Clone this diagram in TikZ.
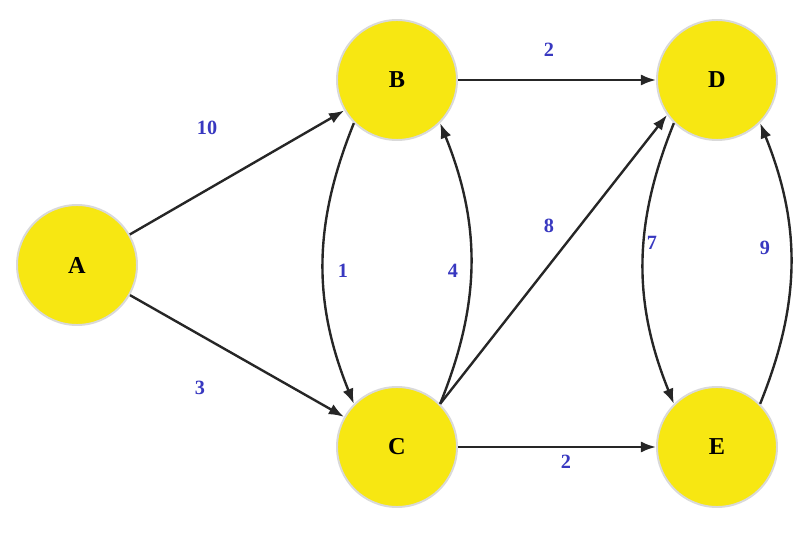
\documentclass[tikz,border=0pt]{standalone}
\usepackage{fontspec}
\setmainfont{Liberation Serif}
\usetikzlibrary{arrows.meta}
\definecolor{nodeyellow}{HTML}{F7E712}
\definecolor{wblue}{HTML}{3838C0}
\begin{document}
\begin{tikzpicture}[
    vertex/.style={circle, minimum size=3cm, fill=nodeyellow, draw=black!15, line width=1.4pt, font=\bfseries\LARGE},
    edge/.style={-{Latex[length=3.8mm,width=2.8mm]}, line width=1.7pt, black!85},
    weight/.style={text=wblue, font=\bfseries\Large}]
    \useasboundingbox (0,0) rectangle (20.05,13.675);
    \node[vertex] (A) at (1.925,7.05)  {A};
    \node[vertex] (B) at (9.925,11.675) {B};
    \node[vertex] (C) at (9.925,2.5)   {C};
    \node[vertex] (D) at (17.925,11.675) {D};
    \node[vertex] (E) at (17.925,2.5)  {E};
    % straight edges
    \draw[edge] (A) -- (B);
    \draw[edge] (A) -- (C);
    \draw[edge] (B) -- (D);
    \draw[edge] (C) -- (E);
    \draw[edge] (C.45) -- (D.215);
    % curved pairs
    \draw[edge] (B.225) to[bend right=22] (C.135);
    \draw[edge] (C.45) to[bend right=22] (B.315);
    \draw[edge] (D.225) to[bend right=22] (E.135);
    \draw[edge] (E.45) to[bend right=22] (D.315);
    % weights
    \node[weight] (wab) at (5.175,10.475) {10};
    \node[weight] (wac) at (5.0,3.975) {3};
    \node[weight] (wbd) at (13.725,12.425) {2};
    \node[weight] (wce) at (14.15,2.125) {2};
    \node[weight] (wcd) at (13.725,8.025) {8};
    \node[weight] (wbc) at (8.575,6.9) {1};
    \node[weight] (wcb) at (11.325,6.9) {4};
    \node[weight] (wde) at (16.3,7.6) {7};
    \node[weight] (wed) at (19.125,7.475) {9};
\end{tikzpicture}
\end{document}
